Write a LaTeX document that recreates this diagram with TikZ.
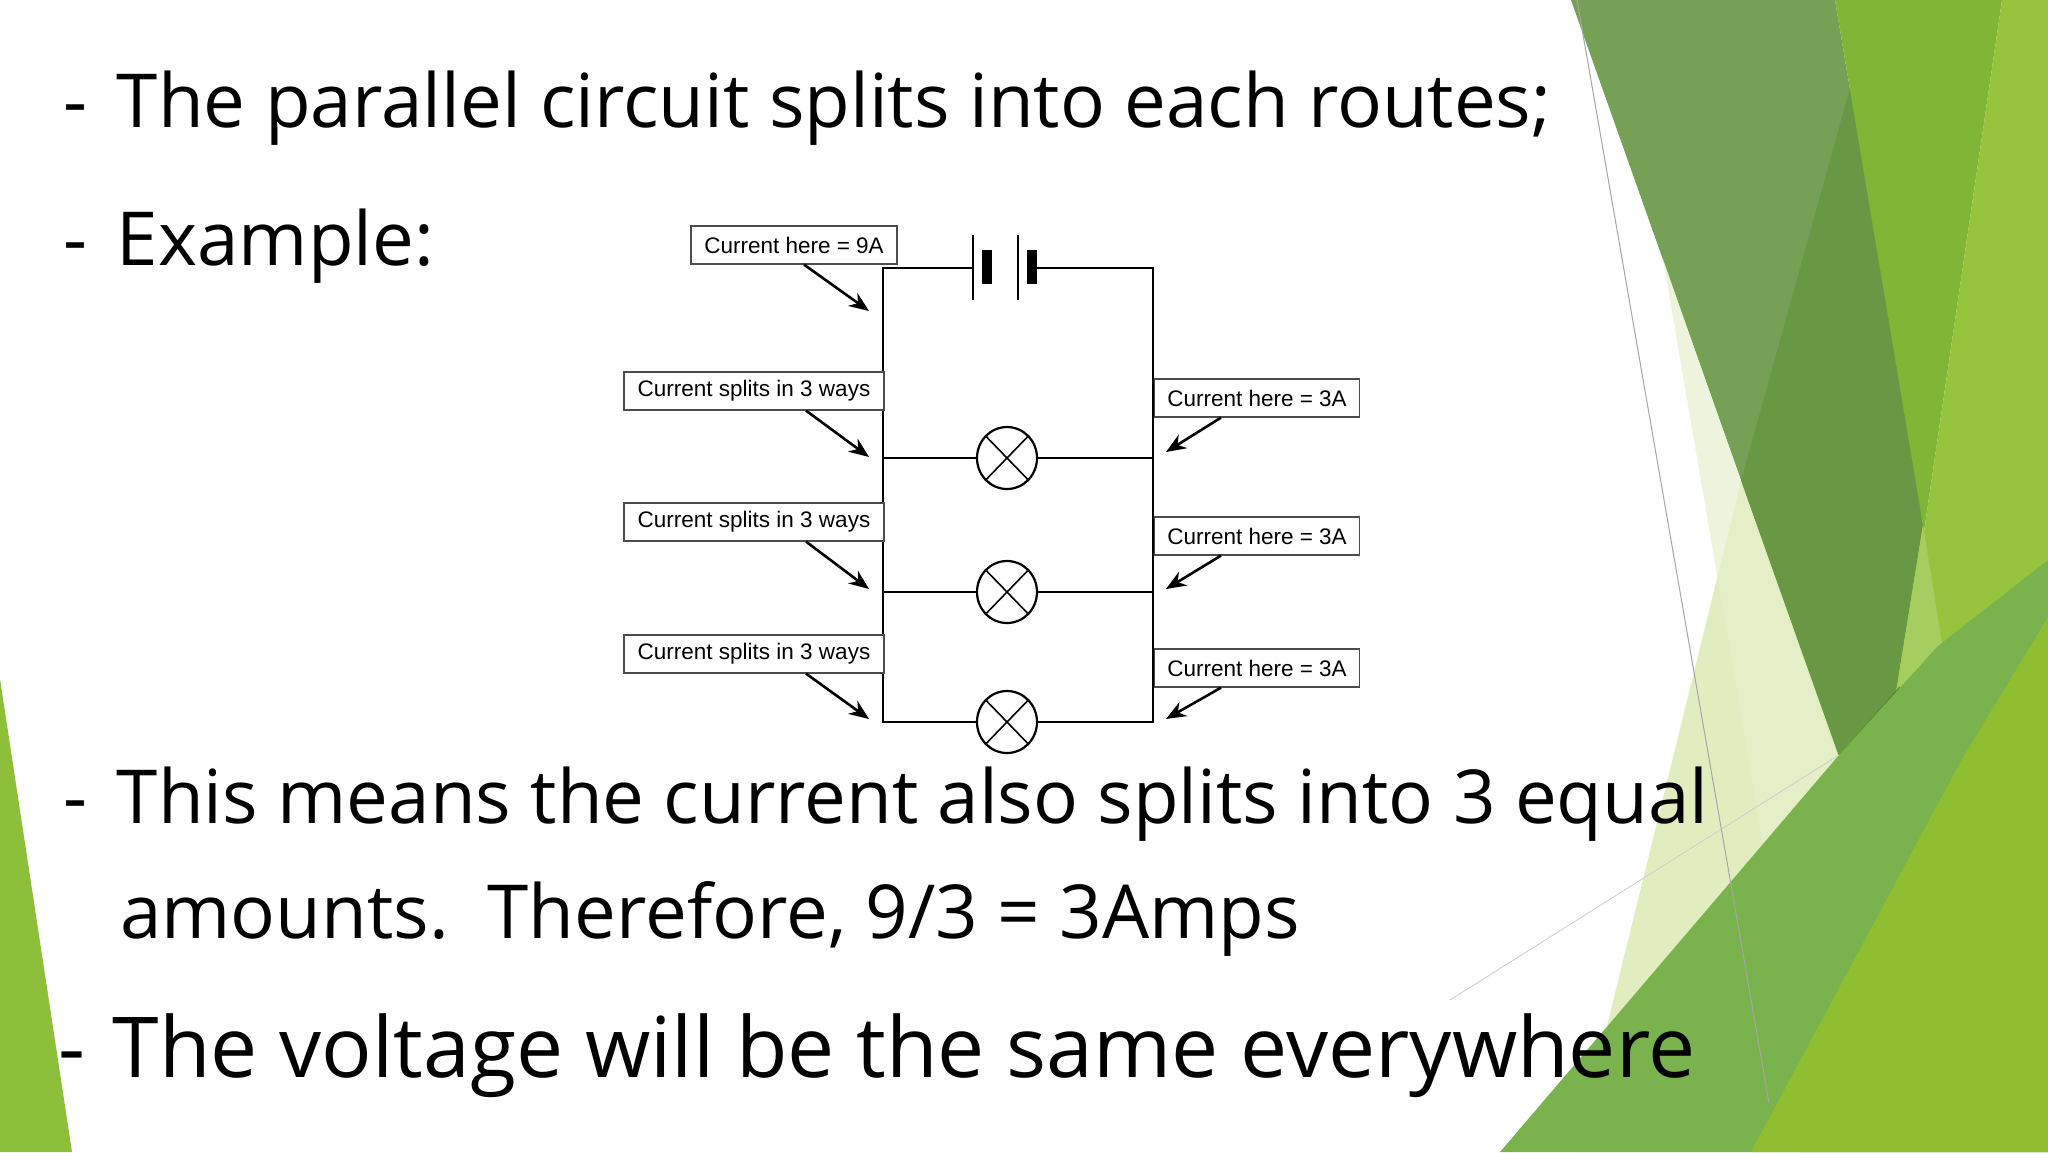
\documentclass[tikz,border=0pt]{standalone}
\usepackage{fontspec}
\usetikzlibrary{shapes.geometric,arrows.meta}
\setmainfont{Open Sans}
\newfontfamily\lab{Liberation Sans}
\begin{document}
\begin{tikzpicture}[x=1pt,y=-1pt,
 big/.style={anchor=base west,inner sep=0pt,font=\fontsize{74.5}{80}\selectfont},
 lbox/.style={draw=black!70,line width=1.2pt,fill=white,inner sep=0pt,minimum height=38pt,font=\lab\fontsize{22.5}{24}\selectfont},
 wire/.style={line width=1.8pt},
 arr/.style={line width=2.6pt,-{Stealth[length=20pt,width=16pt]}}]
\useasboundingbox (0,0) rectangle (2048,1152);
\fill[white] (0,0) rectangle (2048,1152);
% background shapes
\fill[color={rgb,255:red,118;green,160;blue,86}] (1571,0)--(1835,0)--(1923,525)--(1871,847)--cycle;
\fill[color={rgb,255:red,105;green,152;blue,68}] (1855,70)--(1741,481)--(1871,847)--(1923,525)--cycle;
\fill[color={rgb,255:red,128;green,181;blue,53}] (1835,0)--(2002,0)--(1866,927)--(1871,847)--(1923,525)--cycle;
\fill[color={rgb,255:red,151;green,196;blue,63}] (2002,0)--(2048,0)--(2048,1152)--(1800,1152)--(1866,927)--cycle;
\fill[color={rgb,255:red,165;green,205;blue,95}] (1923,525)--(1961,761)--(1866,927)--(1871,847)--cycle;
\fill[color={rgb,255:red,215;green,232;blue,170},opacity=.75] (1741,481)--(1871,847)--(1760,1152)--(1576,1152)--cycle;
\fill[color={rgb,255:red,230;green,240;blue,205},opacity=.7] (1663,259)--(1940,1050)--(1800,1060)--cycle;
\fill[color={rgb,255:red,80;green,138;blue,35}] (1839,755)--(1900,686)--(1874,847)--cycle;
\fill[color={rgb,255:red,122;green,178;blue,78}] (1500,1152)--(1839,755)--(1938,646)--(2048,560)--(2048,1152)--cycle;
\fill[color={rgb,255:red,143;green,191;blue,48}] (1751,1152)--(1961,761)--(2048,617)--(2048,1152)--cycle;
\fill[color={rgb,255:red,141;green,191;blue,58}] (0,679)--(72,1152)--(0,1152)--cycle;
\draw[gray!70,line width=1pt] (1577,0)--(1769,1103);
\draw[gray!40,line width=.8pt] (1450,1000)--(1839,755);
% text
\node[big] (t1) at (63,127) {-\hspace{0.4em}The parallel circuit splits into each routes;};
\node[big] (t2) at (63,265) {-\hspace{0.4em}Example:};
\node[big] (t3) at (63,823) {-\hspace{0.4em}This means the current also splits into 3 equal};
\node[big] (t4) at (120,938) {amounts.\ \ Therefore, 9/3 = 3Amps};
\node[big,font=\fontsize{84}{90}\selectfont] (t5) at (58,1077) {-\hspace{0.33em}The voltage will be the same everywhere};
% circuit
\coordinate (tl) at (883,268); \coordinate (tr) at (1153,268);
\coordinate (l1) at (883,458); \coordinate (r1) at (1153,458);
\coordinate (l2) at (883,592); \coordinate (r2) at (1153,592);
\coordinate (l3) at (883,722); \coordinate (r3) at (1153,722);
\draw[wire] (973,268)--(tl)--(l3)--(r3)--(tr)--(1032,268);
\draw[wire] (l1)--(r1) (l2)--(r2);
\draw[line width=2pt] (973,235)--(973,300) (1018,235)--(1018,300);
\fill (982,250) rectangle (992,284);
\fill (1027,250) rectangle (1037,284);
\foreach \y/\n in {458/a,592/b,722/c}{
 \node[draw,ellipse,line width=2.2pt,fill=white,minimum width=60pt,minimum height=62pt,inner sep=0pt] (lamp\n) at (1007,\y) {};
 \draw[line width=1.6pt] (lamp\n.north west)--(lamp\n.south east) (lamp\n.north east)--(lamp\n.south west);
}
\node[lbox,minimum width=206pt] (b0) at (794,245) {Current here = 9A};
\node[lbox,minimum width=260pt] (b1) at (754,391) {Current splits in 3 ways};
\node[lbox,minimum width=260pt] (b2) at (754,522) {Current splits in 3 ways};
\node[lbox,minimum width=260pt] (b3) at (754,654) {Current splits in 3 ways};
\node[lbox,minimum width=205pt] (c1) at (1257,398) {Current here = 3A};
\node[lbox,minimum width=205pt] (c2) at (1257,536) {Current here = 3A};
\node[lbox,minimum width=205pt] (c3) at (1257,668) {Current here = 3A};
\coordinate (e0) at (869,311); \coordinate (e1) at (869,457); \coordinate (e2) at (869,589); \coordinate (e3) at (869,719);
\coordinate (f1) at (1166,452); \coordinate (f2) at (1166,589); \coordinate (f3) at (1166,719);
\draw[arr] ([xshift=10pt]b0.south) -- (e0);
\draw[arr] ([xshift=52pt]b1.south) -- (e1);
\draw[arr] ([xshift=52pt]b2.south) -- (e2);
\draw[arr] ([xshift=52pt]b3.south) -- (e3);
\draw[arr] ([xshift=-36pt]c1.south) -- (f1);
\draw[arr] ([xshift=-36pt]c2.south) -- (f2);
\draw[arr] ([xshift=-36pt]c3.south) -- (f3);
\end{tikzpicture}
\end{document}
